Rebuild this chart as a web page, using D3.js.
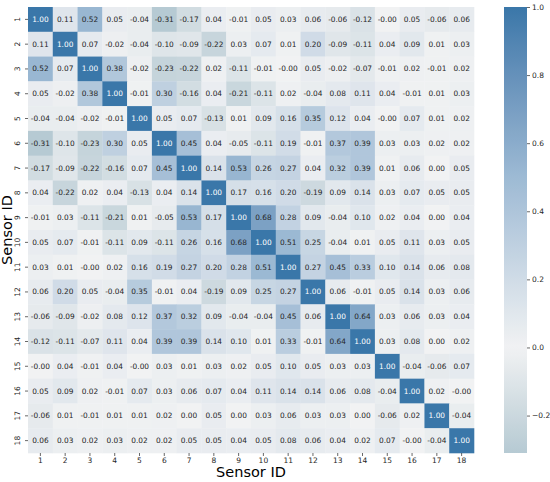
<!DOCTYPE html>
<html>
<head>
<meta charset="utf-8">
<script src="https://cdn.jsdelivr.net/npm/d3@7"></script>
<style>
  html, body { margin: 0; padding: 0; background: #fff; }
  svg { display: block; font-family: "DejaVu Sans", sans-serif; }
</style>
</head>
<body>
<svg id="chart" width="550" height="482"></svg>
<script>
const sensors = ["1","2","3","4","5","6","7","8","9","10","11","12","13","14","15","16","17","18"];
// -0.001 marks cells shown as "-0.00"
const row1  = [1.00, 0.11, 0.52, 0.05, -0.04, -0.31, -0.17, 0.04, -0.01, 0.05, 0.03, 0.06, -0.06, -0.12, -0.001, 0.05, -0.06, 0.06];
const row2  = [0.11, 1.00, 0.07, -0.02, -0.04, -0.10, -0.09, -0.22, 0.03, 0.07, 0.01, 0.20, -0.09, -0.11, 0.04, 0.09, 0.01, 0.03];
const row3  = [0.52, 0.07, 1.00, 0.38, -0.02, -0.23, -0.22, 0.02, -0.11, -0.01, -0.001, 0.05, -0.02, -0.07, -0.01, 0.02, -0.01, 0.02];
const row4  = [0.05, -0.02, 0.38, 1.00, -0.01, 0.30, -0.16, 0.04, -0.21, -0.11, 0.02, -0.04, 0.08, 0.11, 0.04, -0.01, 0.01, 0.03];
const row5  = [-0.04, -0.04, -0.02, -0.01, 1.00, 0.05, 0.07, -0.13, 0.01, 0.09, 0.16, 0.35, 0.12, 0.04, -0.001, 0.07, 0.01, 0.02];
const row6  = [-0.31, -0.10, -0.23, 0.30, 0.05, 1.00, 0.45, 0.04, -0.05, -0.11, 0.19, -0.01, 0.37, 0.39, 0.03, 0.03, 0.02, 0.02];
const row7  = [-0.17, -0.09, -0.22, -0.16, 0.07, 0.45, 1.00, 0.14, 0.53, 0.26, 0.27, 0.04, 0.32, 0.39, 0.01, 0.06, 0.00, 0.05];
const row8  = [0.04, -0.22, 0.02, 0.04, -0.13, 0.04, 0.14, 1.00, 0.17, 0.16, 0.20, -0.19, 0.09, 0.14, 0.03, 0.07, 0.05, 0.05];
const row9  = [-0.01, 0.03, -0.11, -0.21, 0.01, -0.05, 0.53, 0.17, 1.00, 0.68, 0.28, 0.09, -0.04, 0.10, 0.02, 0.04, 0.00, 0.04];
const row10 = [0.05, 0.07, -0.01, -0.11, 0.09, -0.11, 0.26, 0.16, 0.68, 1.00, 0.51, 0.25, -0.04, 0.01, 0.05, 0.11, 0.03, 0.05];
const row11 = [0.03, 0.01, -0.001, 0.02, 0.16, 0.19, 0.27, 0.20, 0.28, 0.51, 1.00, 0.27, 0.45, 0.33, 0.10, 0.14, 0.06, 0.08];
const row12 = [0.06, 0.20, 0.05, -0.04, 0.35, -0.01, 0.04, -0.19, 0.09, 0.25, 0.27, 1.00, 0.06, -0.01, 0.05, 0.14, 0.03, 0.06];
const row13 = [-0.06, -0.09, -0.02, 0.08, 0.12, 0.37, 0.32, 0.09, -0.04, -0.04, 0.45, 0.06, 1.00, 0.64, 0.03, 0.06, 0.03, 0.04];
const row14 = [-0.12, -0.11, -0.07, 0.11, 0.04, 0.39, 0.39, 0.14, 0.10, 0.01, 0.33, -0.01, 0.64, 1.00, 0.03, 0.08, 0.00, 0.02];
const row15 = [-0.001, 0.04, -0.01, 0.04, -0.001, 0.03, 0.01, 0.03, 0.02, 0.05, 0.10, 0.05, 0.03, 0.03, 1.00, -0.04, -0.06, 0.07];
const row16 = [0.05, 0.09, 0.02, -0.01, 0.07, 0.03, 0.06, 0.07, 0.04, 0.11, 0.14, 0.14, 0.06, 0.08, -0.04, 1.00, 0.02, -0.001];
const row17 = [-0.06, 0.01, -0.01, 0.01, 0.01, 0.02, 0.00, 0.05, 0.00, 0.03, 0.06, 0.03, 0.03, 0.00, -0.06, 0.02, 1.00, -0.04];
const row18 = [0.06, 0.03, 0.02, 0.03, 0.02, 0.02, 0.05, 0.05, 0.04, 0.05, 0.08, 0.06, 0.04, 0.02, 0.07, -0.001, -0.04, 1.00];
const matrix = [row1,row2,row3,row4,row5,row6,row7,row8,row9,row10,row11,row12,row13,row14,row15,row16,row17,row18];
const colorbarTicks = [-0.2, 0.0, 0.2, 0.4, 0.6, 0.8, 1.0];
const axisTitle = "Sensor ID";

const svg = d3.select("#chart");
const mLeft = 28, mTop = 7, size = 446;
const x = d3.scaleBand().domain(sensors).range([mLeft, mLeft + size]);
const y = d3.scaleBand().domain(sensors).range([mTop, mTop + size]);
const vmin = d3.min(matrix.flat()), vmax = 1.0;
const color = d3.scaleLinear()
  .domain([vmin, 0, 0.5, vmax])
  .range(["#b6cad3", "#f1f2f3", "#9dbad4", "#3a77a9"])
  .interpolate(d3.interpolateLab)
  .clamp(true);

const cells = [];
matrix.forEach((r, i) => r.forEach((v, j) => cells.push({row: sensors[i], col: sensors[j], v})));

const g = svg.append("g");
g.selectAll("rect").data(cells).join("rect")
  .attr("x", d => x(d.col)).attr("y", d => y(d.row))
  .attr("width", x.bandwidth() + 0.3).attr("height", y.bandwidth() + 0.3)
  .attr("fill", d => color(d.v));

function lum(c) {
  const rgb = d3.rgb(c);
  const f = u => { u /= 255; return u <= 0.03928 ? u / 12.92 : Math.pow((u + 0.055) / 1.055, 2.4); };
  return 0.2126 * f(rgb.r) + 0.7152 * f(rgb.g) + 0.0722 * f(rgb.b);
}
g.selectAll("text").data(cells).join("text")
  .attr("x", d => x(d.col) + x.bandwidth() / 2)
  .attr("y", d => y(d.row) + y.bandwidth() / 2)
  .attr("text-anchor", "middle").attr("dominant-baseline", "central")
  .attr("font-size", 7.4)
  .attr("fill", d => lum(color(d.v)) < 0.3 ? "#ffffff" : "#262626")
  .text(d => d.v.toFixed(2));

// x axis
const xa = svg.append("g").attr("transform", `translate(0,${mTop + size})`)
  .call(d3.axisBottom(x).tickSize(3).tickPadding(2));
xa.select(".domain").remove();
xa.selectAll("text").attr("font-size", 7.5).attr("fill", "#262626").attr("font-family", "DejaVu Sans");
xa.selectAll("line").attr("stroke", "#262626").attr("stroke-width", 0.7);

// y axis
const ya = svg.append("g").attr("transform", `translate(${mLeft},0)`)
  .call(d3.axisLeft(y).tickSize(3).tickPadding(2));
ya.select(".domain").remove();
ya.selectAll("line").attr("stroke", "#262626").attr("stroke-width", 0.7);
ya.selectAll("text").attr("font-size", 7.5).attr("fill", "#262626").attr("font-family", "DejaVu Sans")
  .attr("text-anchor", "middle").attr("dy", null)
  .attr("transform", "translate(-11,0) rotate(-90)")
  .attr("x", 0).attr("y", 0).attr("dominant-baseline", "central");

// axis titles
svg.append("text").attr("x", mLeft + size / 2).attr("y", 477).attr("text-anchor", "middle")
  .attr("font-size", 14.5).attr("fill", "#000").text(axisTitle);
svg.append("text").attr("transform", `translate(12,${mTop + size / 2}) rotate(-90)`)
  .attr("text-anchor", "middle").attr("font-size", 14.5).attr("fill", "#000").text(axisTitle);

// colorbar
const cbX = 504, cbW = 23;
const cy = d3.scaleLinear().domain([vmin, vmax]).range([mTop + size, mTop]);
const defs = svg.append("defs");
const grad = defs.append("linearGradient").attr("id", "cbgrad")
  .attr("x1", 0).attr("y1", 1).attr("x2", 0).attr("y2", 0);
d3.range(0, 1.0001, 0.02).forEach(t => {
  grad.append("stop").attr("offset", t).attr("stop-color", color(vmin + t * (vmax - vmin)));
});
svg.append("rect").attr("x", cbX).attr("y", mTop).attr("width", cbW).attr("height", size)
  .attr("fill", "url(#cbgrad)");
const ca = svg.append("g").attr("transform", `translate(${cbX + cbW},0)`)
  .call(d3.axisRight(cy).tickValues(colorbarTicks).tickSize(3).tickPadding(2).tickFormat(d3.format(".1f")));
ca.select(".domain").remove();
ca.selectAll("line").attr("stroke", "#262626").attr("stroke-width", 0.7);
ca.selectAll("text").attr("font-size", 7.5).attr("fill", "#262626").attr("font-family", "DejaVu Sans");
</script>
</body>
</html>
